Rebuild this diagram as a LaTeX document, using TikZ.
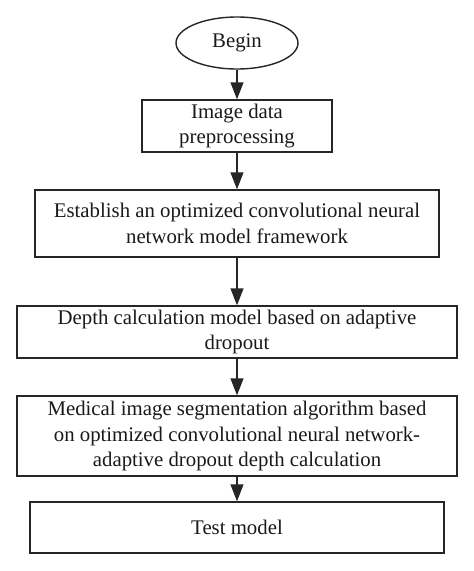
\documentclass[tikz,border=0pt]{standalone}
\usepackage{fontspec}
\setmainfont{Liberation Serif}
\usetikzlibrary{shapes.geometric,arrows.meta}
\begin{document}
\begin{tikzpicture}[x=1pt,y=-1pt,
  every node/.style={font=\fontsize{20.8}{25.5}\selectfont, align=center, inner sep=0pt, line width=1.4pt, draw=black!85, text=black!90},
  box/.style={rectangle},
  oval/.style={ellipse},
  conn/.style={line width=1.4pt, draw=black!85, -{Triangle[length=17pt,width=13pt]}}]
\useasboundingbox (0,0) rectangle (474,571);
\node[oval, minimum width=122pt, minimum height=52pt] (begin) at (237,43) {Begin};
\node[box, minimum width=190pt, minimum height=52pt] (img) at (237,126) {Image data\\preprocessing};
\node[box, minimum width=404pt, minimum height=67pt] (est) at (237,223.5) {Establish an optimized convolutional neural\\network model framework};
\node[box, minimum width=440pt, minimum height=52pt] (depth) at (237,332) {Depth calculation model based on adaptive\\dropout};
\node[box, minimum width=440pt, minimum height=80pt] (med) at (237,436) {Medical image segmentation algorithm based\\on optimized convolutional neural network-\\adaptive dropout depth calculation};
\node[box, minimum width=414pt, minimum height=51pt] (test) at (237,527.5) {Test model};
\draw[conn] (begin) -- (img);
\draw[conn] (img) -- (est);
\draw[conn] (est) -- (depth);
\draw[conn] (depth) -- (med);
\draw[conn] (med) -- (test);
\end{tikzpicture}
\end{document}
